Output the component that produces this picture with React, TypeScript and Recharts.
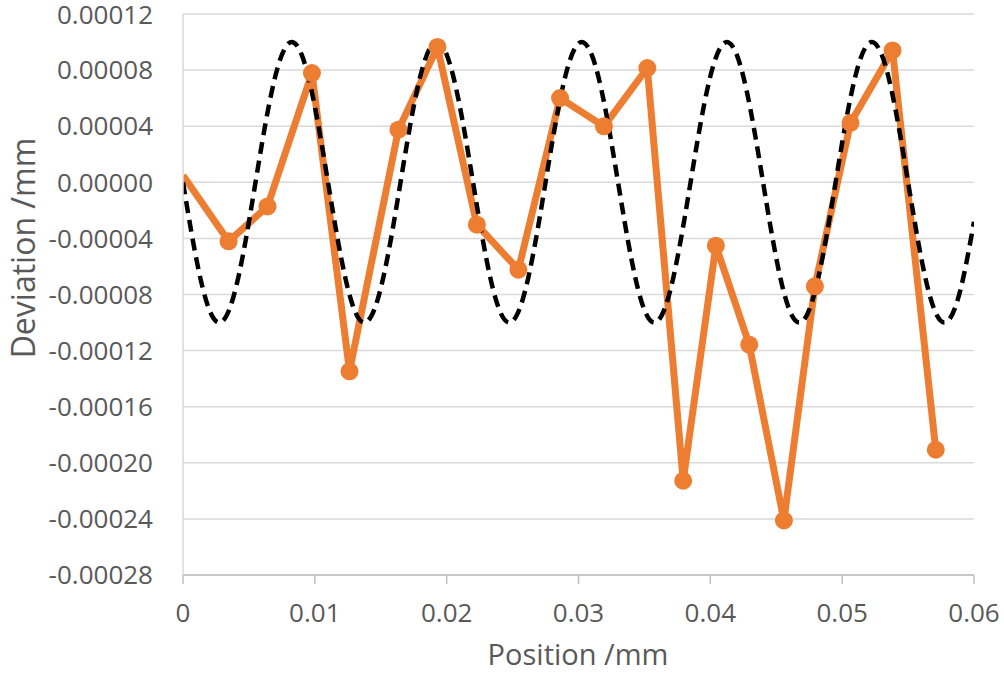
import React from 'react';
import { LineChart, Line, XAxis, YAxis, CartesianGrid, Label } from 'recharts';

// measured profile (orange)
const posX = [0, 0.00346, 0.00641, 0.00978, 0.01263, 0.01634, 0.0193, 0.02229, 0.02544, 0.0286, 0.03193, 0.03522, 0.03794, 0.04042, 0.04295, 0.04558, 0.04793, 0.05063, 0.05382, 0.0571];
const devY = [0.0000049, -0.0000421, -0.0000172, 0.0000779, -0.0001348, 0.0000375, 0.0000965, -0.0000302, -0.0000623, 0.0000601, 0.0000399, 0.0000815, -0.0002128, -0.0000452, -0.0001158, -0.0002411, -0.0000742, 0.0000423, 0.000094, -0.0001907];

// reference waviness (black dashed)
const refX = [
  0, 0.001, 0.002, 0.003, 0.004, 0.005, 0.006, 0.007, 0.008, 0.009,
  0.01, 0.011, 0.012, 0.013, 0.014, 0.015, 0.016, 0.017, 0.018, 0.019,
  0.02, 0.021, 0.022, 0.023, 0.024, 0.025, 0.026, 0.027, 0.028, 0.029,
  0.03, 0.031, 0.032, 0.033, 0.034, 0.035, 0.036, 0.037, 0.038, 0.039,
  0.04, 0.041, 0.042, 0.043, 0.044, 0.045, 0.046, 0.047, 0.048, 0.049,
  0.05, 0.051, 0.052, 0.053, 0.054, 0.055, 0.056, 0.057, 0.058, 0.059,
  0.06,
];
const refY = [
  0, -5.41e-5, -9.1e-5, -9.9e-5, -7.56e-5, -2.82e-5, 2.82e-5, 7.56e-5, 9.9e-5, 9.1e-5, 5.41e-5,
  0, -5.41e-5, -9.1e-5, -9.9e-5, -7.56e-5, -2.82e-5, 2.82e-5, 7.56e-5, 9.9e-5, 9.1e-5, 5.41e-5,
  0, -5.41e-5, -9.1e-5, -9.9e-5, -7.56e-5, -2.82e-5, 2.82e-5, 7.56e-5, 9.9e-5, 9.1e-5, 5.41e-5,
  0, -5.41e-5, -9.1e-5, -9.9e-5, -7.56e-5, -2.82e-5, 2.82e-5, 7.56e-5, 9.9e-5, 9.1e-5, 5.41e-5,
  0, -5.41e-5, -9.1e-5, -9.9e-5, -7.56e-5, -2.82e-5, 2.82e-5, 7.56e-5, 9.9e-5, 9.1e-5, 5.41e-5,
  0, -5.41e-5, -9.1e-5, -9.9e-5, -7.56e-5, -2.82e-5,
];

const xTicks = [0, 0.01, 0.02, 0.03, 0.04, 0.05, 0.06];
const yTicks = [-0.00028, -0.00024, -0.0002, -0.00016, -0.00012, -0.00008, -0.00004, 0, 0.00004, 0.00008, 0.00012];

const measured = posX.map((x, i) => ({ x, y: devY[i] }));
const reference = refX.map((x, i) => ({ x, y: refY[i] }));

const FONT = '"Open Sans", sans-serif';
const GREY = '#595959';

const OrangeDot = (props: any) => {
  const { cx, cy, index } = props;
  if (index === 0) return <g key={`d${index}`} />;
  return <circle key={`d${index}`} cx={cx} cy={cy} r={9} fill="#ED7D31" />;
};

export default function App() {
  return (
    <div style={{ position: 'absolute', left: 0, top: 0, width: 1004, height: 682, background: '#fff' }}>
      <LineChart width={1004} height={682} margin={{ top: 14, right: 30, left: 0, bottom: 0 }}>
        <CartesianGrid vertical={false} stroke="#d9d9d9" strokeWidth={1.5} />
        <XAxis
          type="number"
          dataKey="x"
          domain={[0, 0.06]}
          ticks={xTicks}
          allowDataOverflow
          height={107}
          tickFormatter={(v: number) => (v === 0 ? '0' : String(+v.toFixed(2)))}
          tick={{ fontSize: 26, fill: GREY, fontFamily: FONT }}
          stroke="#bfbfbf"
          strokeWidth={1.5}
          tickSize={9}
          tickMargin={20}
        >
          <Label
            content={() => (
              <text x={578} y={665} textAnchor="middle" fontSize={29} fill={GREY} fontFamily={FONT}>
                Position /mm
              </text>
            )}
          />
        </XAxis>
        <YAxis
          type="number"
          domain={[-0.00028, 0.00012]}
          ticks={yTicks}
          allowDataOverflow
          width={183}
          tickFormatter={(v: number) => v.toFixed(5)}
          tick={{ fontSize: 26, fill: GREY, fontFamily: FONT }}
          stroke="#d9d9d9"
          strokeWidth={1.5}
          tickLine={false}
          tickSize={0}
          tickMargin={30}
        >
          <Label
            content={() => (
              <text
                x={22}
                y={248}
                transform="rotate(-90, 22, 248)"
                textAnchor="middle"
                dominantBaseline="central"
                fontSize={32}
                fill={GREY}
                fontFamily={FONT}
              >
                Deviation /mm
              </text>
            )}
          />
        </YAxis>
        <Line
          data={measured}
          dataKey="y"
          type="linear"
          stroke="#ED7D31"
          strokeWidth={7}
          strokeLinejoin="round"
          dot={OrangeDot}
          activeDot={false}
          isAnimationActive={false}
        />
        <Line
          data={reference}
          dataKey="y"
          type="natural"
          stroke="#000000"
          strokeWidth={4.5}
          strokeDasharray="12 7"
          dot={false}
          activeDot={false}
          isAnimationActive={false}
        />
      </LineChart>
    </div>
  );
}
